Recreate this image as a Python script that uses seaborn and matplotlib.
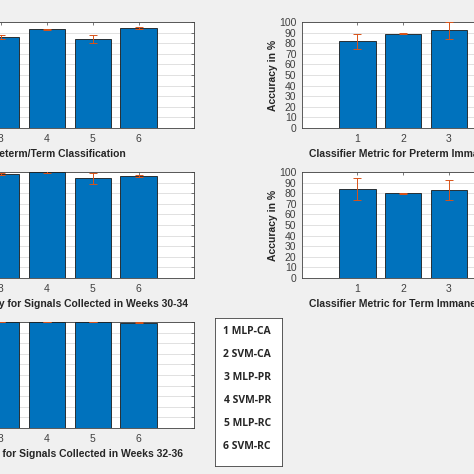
import matplotlib
matplotlib.use("Agg")
import matplotlib.pyplot as plt
import seaborn as sns
import pandas as pd
import numpy as np

sns.set_style("white")
plt.rcParams['font.family'] = ['Liberation Sans', 'DejaVu Sans']

metrics = [1, 2, 3, 4, 5, 6]
legend_labels = ["1 MLP-CA", "2 SVM-CA", "3 MLP-PR", "4 SVM-PR", "5 MLP-RC", "6 SVM-RC"]

pt_vals = [88, 90, 86, 93, 84, 94]
pt_err = [3, 1, 2, 0.5, 4, 1]
pre_vals = [82, 89, 92, 90, 85, 88]
pre_err = [7, 0.5, 8, 2, 5, 3]
w3034_vals = [97, 98, 98, 100, 94, 96]
w3034_err = [2, 1, 1, 0.5, 5, 1]
term_vals = [84, 80, 83, 82, 80, 81]
term_err = [10, 0.5, 9, 3, 5, 2]
w3236_vals = [100, 100, 100, 100, 100, 99.5]
w3236_err = [0, 0, 0, 0, 0, 0.3]

labels = {
    "pt": "Classifier Metric for Preterm/Term Classification",
    "pre": "Classifier Metric for Preterm Immanency",
    "w3034": "Classifier Metric for Preterm Immanency for Signals Collected in Weeks 30-34",
    "term": "Classifier Metric for Term Immanency",
    "w3236": "Classifier Metric for Preterm Immanency for Signals Collected in Weeks 32-36",
}

W = H = 474
fig = plt.figure(figsize=(4.74, 4.74), dpi=100)
fig.patch.set_facecolor("#f0f0f0")

def make_ax(x0, ytop, ybot, vals, err, label, show_y, label_end=None):
    ax = fig.add_axes([x0 / W, 1 - ybot / H, 340 / W, (ybot - ytop) / H])
    df = pd.DataFrame({"m": metrics, "v": vals})
    sns.barplot(data=df, x="m", y="v", native_scale=True, width=0.8,
                color="#0072BD", saturation=1, edgecolor="#1a1a1a",
                linewidth=0.6, ax=ax, zorder=3)
    ax.errorbar(metrics, vals, yerr=err, fmt="none", ecolor="#D95319",
                elinewidth=0.7, capsize=3, capthick=0.7, zorder=4)
    ax.set_xlim(-0.2, 7.2)
    ax.set_ylim(0, 100)
    ax.set_xticks(metrics)
    ax.set_yticks(range(0, 101, 10))
    ax.yaxis.grid(True, color="#dcdcdc", linewidth=0.6, zorder=0)
    ax.set_axisbelow(True)
    ax.tick_params(axis="both", labelsize=7.5, colors="#404040", direction="in",
                   length=2, width=0.5, right=True, top=True, pad=4)
    ax.set_xlabel(label, fontsize=7.5, fontweight="bold", color="#262626")
    if label_end is None:
        ax.xaxis.label.set_ha("left")
        ax.xaxis.set_label_coords(7 / 340, -0.2)
    else:
        ax.xaxis.label.set_ha("right")
        ax.xaxis.set_label_coords((label_end - x0) / 340, -0.2)
    if show_y:
        ax.set_ylabel("Accuracy in %", fontsize=7.5, fontweight="bold", color="#262626", labelpad=1)
    else:
        ax.set_ylabel("")
    for s in ax.spines.values():
        s.set_color("#404040")
        s.set_linewidth(0.6)
    ax.set_facecolor("white")
    return ax

make_ax(-146, 22, 128, pt_vals, pt_err, labels["pt"], False, 126)
make_ax(302, 22, 128, pre_vals, pre_err, labels["pre"], True)
make_ax(-146, 172, 278, w3034_vals, w3034_err, labels["w3034"], False, 188)
make_ax(302, 172, 278, term_vals, term_err, labels["term"], True)
make_ax(-146, 322, 428, w3236_vals, w3236_err, labels["w3236"], False, 183)

lax = fig.add_axes([215 / W, 1 - 466 / H, 67 / W, 148 / H])
lax.set_xticks([]); lax.set_yticks([])
lax.set_facecolor("white")
for s in lax.spines.values():
    s.set_color("#404040"); s.set_linewidth(0.6)
for i, t in enumerate(legend_labels):
    lax.text(0.48, 1 - (i + 0.5) / 6.4 - 0.01, t, transform=lax.transAxes,
             ha="center", va="center", fontsize=7.5, fontweight="bold",
             family=["Open Sans", "DejaVu Sans"])

fig.savefig("out.png", dpi=100, facecolor=fig.get_facecolor())
